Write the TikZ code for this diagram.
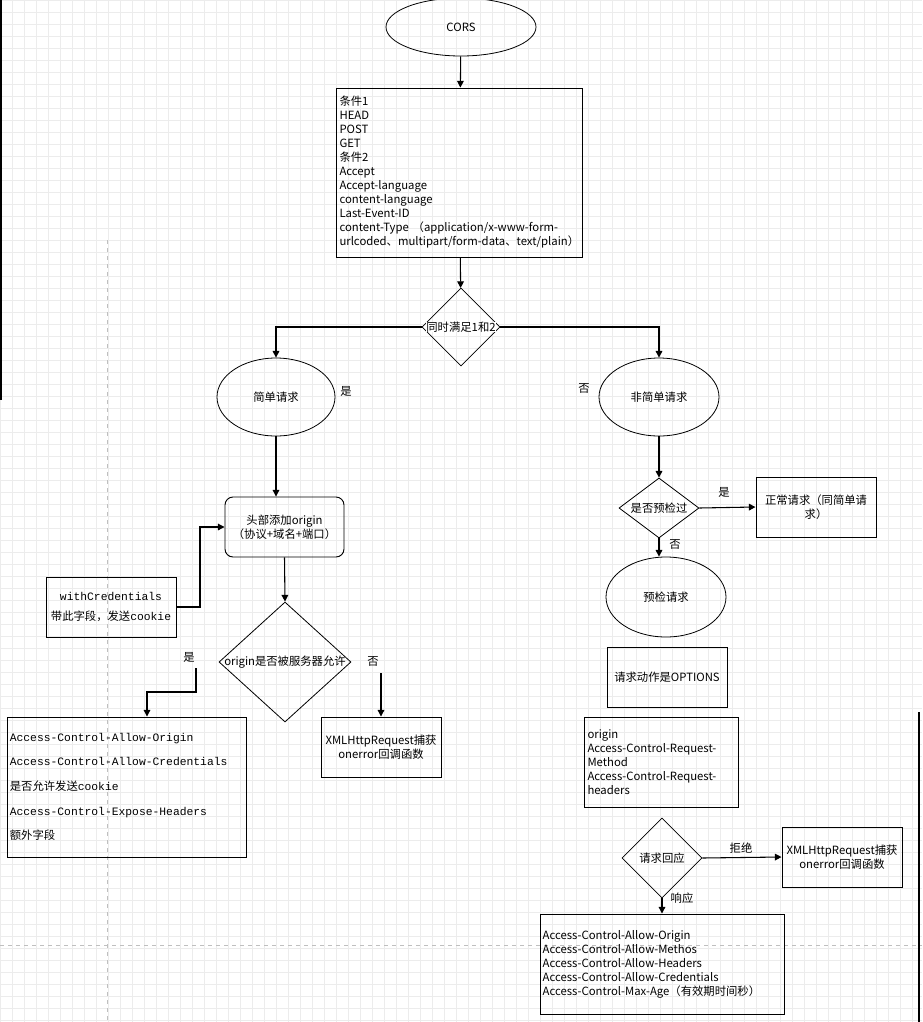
\documentclass[tikz,border=0pt]{standalone}
\usepackage{fontspec}
\setmainfont{Noto Sans CJK SC}
\setmonofont{Liberation Mono}
\usetikzlibrary{shapes.geometric,arrows.meta}
\begin{document}
\begin{tikzpicture}[x=0.75pt,y=-0.75pt,
  every node/.style={font=\fontsize{8.5}{10.5}\selectfont},
  box/.style={draw,line width=0.7pt,rectangle,inner sep=2pt},
  ell/.style={draw,line width=0.6pt,ellipse,inner sep=0pt},
  dia/.style={draw,line width=0.6pt,diamond,inner sep=0pt},
  arr/.style={line width=0.8pt,-{Triangle[length=5pt,width=5pt]}},
  lab/.style={inner sep=0pt}]
% background
\useasboundingbox (0,0) rectangle (922,1022);
\fill[white] (0,0) rectangle (922,1022);
\foreach \g in {0,12,...,1020} {
  \draw[gray!15] (\g,0) -- (\g,1022);
  \draw[gray!15] (0,\g) -- (922,\g);
}
\draw[gray!50,dashed] (107,240) -- (107,1022);
\draw[gray!50,dashed] (0,945) -- (922,945);
\draw[line width=2.2pt] (1,0) -- (1,400);
\draw[line width=2.2pt] (919,712) -- (919,1022);

% nodes
\node[ell,minimum width=112.5pt,minimum height=43.5pt] (cors) at (461,27) {CORS};
\node[box,minimum width=183.75pt,minimum height=126.75pt,align=left,text width=180pt] (cond) at (459.5,172.5)
 {条件1\\HEAD\\POST\\GET\\条件2\\Accept\\Accept-language\\content-language\\Last-Event-ID\\content-Type （application/x-www-form-\\urlcoded、multipart/form-data、text/plain）};
\node[dia,minimum width=58.5pt,minimum height=58.5pt] (both) at (461,327) {};
\node[lab,fill=white] (bothl) at (461,327) {同时满足1和2};
\node[ell,minimum width=88.5pt,minimum height=58.5pt] (simple) at (276,397) {简单请求};
\node[ell,minimum width=90pt,minimum height=58.5pt] (nonsimple) at (659,397) {非简单请求};
\node[lab] (yes1) at (346,391) {是};
\node[lab] (no1) at (584,389) {否};
\node[box,rounded corners=6pt,minimum width=89.25pt,minimum height=45pt,align=center] (origin) at (284.5,527) {头部添加origin\\（协议+域名+端口）};
\node[box,minimum width=97.5pt,minimum height=45pt,align=center] (cred) at (111,607) {\texttt{withCredentials}\\[4pt]带此字段，发送\texttt{cookie}};
\node[dia,minimum width=99pt,minimum height=90pt] (allow) at (285,662) {};
\node[lab] (allowl) at (285,662) {origin是否被服务器允许};
\node[lab] (yes2) at (189,657) {是};
\node[lab] (no2) at (373,662) {否};
\node[box,minimum width=179.25pt,minimum height=105pt,align=left,text width=175pt] (acao) at (126.5,787)
 {\texttt{Access-Control-Allow-Origin}\\[8pt]\texttt{Access-Control-Allow-Credentials}\\[8pt]是否允许发送\texttt{cookie}\\[8pt]\texttt{Access-Control-Expose-Headers}\\[8pt]额外字段};
\node[box,minimum width=90pt,minimum height=45pt,align=center] (xhr1) at (381,747) {XMLHttpRequest捕获\\onerror回调函数};
\node[dia,minimum width=60pt,minimum height=45pt] (pre) at (659,508) {};
\node[lab] (prel) at (659,508) {是否预检过};
\node[box,minimum width=90pt,minimum height=45pt,align=center] (normal) at (816,507) {正常请求（同简单请\\求）};
\node[lab] (yes3) at (724,492) {是};
\node[lab] (no3) at (675,545) {否};
\node[ell,minimum width=90pt,minimum height=60pt] (preq) at (666,597) {预检请求};
\node[box,minimum width=90pt,minimum height=45pt] (opt) at (667,677) {请求动作是OPTIONS};
\node[box,minimum width=114.75pt,minimum height=67.5pt,align=left,text width=111pt] (reqh) at (661.5,762)
 {origin\\Access-Control-Request-\\Method\\Access-Control-Request-\\headers};
\node[dia,minimum width=60pt,minimum height=60pt] (resp) at (662,858) {};
\node[lab] (respl) at (662,858) {请求回应};
\node[lab] (rej) at (741,848) {拒绝};
\node[lab] (ok) at (682,898) {响应};
\node[box,minimum width=90pt,minimum height=45pt,align=center] (xhr2) at (842,857) {XMLHttpRequest捕获\\onerror回调函数};
\node[box,minimum width=183pt,minimum height=75pt,align=left,text width=179pt] (acam) at (662,964)
 {Access-Control-Allow-Origin\\Access-Control-Allow-Methos\\Access-Control-Allow-Headers\\Access-Control-Allow-Credentials\\Access-Control-Max-Age（有效期时间秒）};

% connectors
\coordinate (c1) at (200,607);
\coordinate (c2) at (196,668);
\coordinate (c3) at (147,692);
\coordinate (c4) at (381,673);
\draw[arr] (cors) -- (cond);
\draw[arr] (cond) -- (both);
\draw[arr] (both.west) -| (simple.north);
\draw[arr] (both.east) -| (nonsimple.north);
\draw[arr] (simple.south) -- (simple.south |- origin.north);
\draw[arr] (cred.east) -- (c1) |- (origin.west);
\draw[arr] (origin.south) -- (allow.north);
\draw[arr] (c2) |- (c3) -- (c3 |- acao.north);
\draw[arr] (c4) -- (c4 |- xhr1.north);
\draw[arr] (nonsimple.south) -- (pre.north);
\draw[arr] (pre.east) -- (normal.west);
\draw[arr] (pre.south) -- (pre.south |- preq.north);
\draw[arr] (resp.east) -- (xhr2.west);
\draw[arr] (resp.south) -- (acam.north);
\end{tikzpicture}
\end{document}
